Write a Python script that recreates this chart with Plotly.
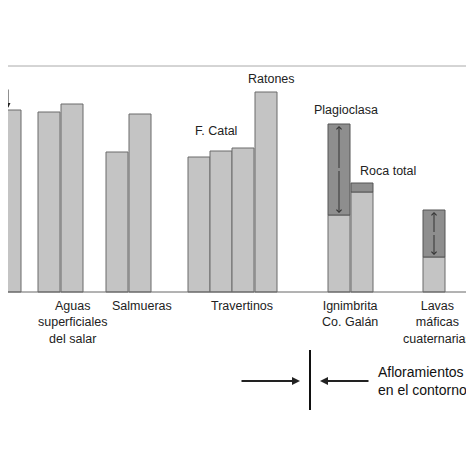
import plotly.graph_objects as go

# data (heights in chart units)
bar_x = [10, 49, 72, 117, 140, 199, 221, 243, 266, 339, 362, 434]
light = [182, 180, 188, 140, 178, 135, 141, 144, 200, 77, 100, 35]
dark_top = [None]*9 + [168, 109, 82]
cat_labels = ["os", "Aguas<br>superficiales<br>del salar", "Salmueras", "Travertinos",
              "Ignimbrita<br>Co. Galán", "Lavas<br>máficas<br>cuaternarias"]
cat_x = [5, 72, 142, 242, 350, 437]

dark_x = [bar_x[i] for i in range(12) if dark_top[i] is not None]
dark_base = [light[i] for i in range(12) if dark_top[i] is not None]
dark_h = [dark_top[i]-light[i] for i in range(12) if dark_top[i] is not None]

fig = go.Figure()
fig.add_bar(x=bar_x, y=light, width=22, marker=dict(color="#c4c4c4", line=dict(color="#6a6a6a", width=1)))
fig.add_bar(x=dark_x, y=dark_h, base=dark_base, width=22,
            marker=dict(color="#8e8e8e", line=dict(color="#555", width=1)))

font = dict(family="Liberation Sans, Arial", size=12.5, color="#222")
bfont = dict(family="Liberation Sans, Arial", size=14, color="#111")
ann = []
for t, x in zip(cat_labels, cat_x):
    ann.append(dict(x=x, y=-5, text=t, showarrow=False, yanchor="top", font=font))
ann += [
    dict(x=3, y=206, text="Río de los Patos", showarrow=False, xanchor="left", font=font),
    dict(x=216, y=161, text="F. Catal", showarrow=False, font=font),
    dict(x=271, y=213, text="Ratones", showarrow=False, font=font),
    dict(x=346, y=182, text="Plagioclasa", showarrow=False, font=font),
    dict(x=388, y=121, text="Roca total", showarrow=False, font=font),
    dict(x=1, y=-89, text="Aguas y depósitos de las aguas", showarrow=False, xanchor="left", font=bfont),
    dict(x=376, y=-89, text="Afloramientos<br>en el contorno", showarrow=False, xanchor="left",
         align="left", font=bfont),
]
arrows = [((8, 184), (8, 204), 1), ((300, -89), (240, -89), 2), ((320, -89), (370, -89), 2)]
for (hx, hy), (tx, ty), w in arrows:
    ann.append(dict(x=hx, y=hy, ax=tx, ay=ty, xref="x", yref="y", axref="x", ayref="y",
                    showarrow=True, arrowhead=2, arrowwidth=w, arrowsize=1 if w == 1 else 0.8,
                    arrowcolor="#222", text=""))
for i in range(12):
    if dark_top[i] is not None:
        for a, b in [(dark_top[i]-2, light[i]+2), (light[i]+2, dark_top[i]-2)]:
            ann.append(dict(x=bar_x[i], y=a, ax=bar_x[i], ay=(a+b)/2, xref="x", yref="y",
                            axref="x", ayref="y", showarrow=True, arrowhead=4, arrowwidth=1,
                            arrowcolor="#333", text=""))

shapes = [
    dict(type="line", x0=0, x1=482, y0=0, y1=0, line=dict(color="#666", width=1)),
    dict(type="line", x0=0, x1=482, y0=226, y1=226, line=dict(color="#aaa", width=1)),
    dict(type="line", x0=310, x1=310, y0=-58, y1=-118, line=dict(color="#111", width=2)),
]

fig.update_layout(width=474, height=474, margin=dict(l=0, r=0, t=0, b=0),
                  paper_bgcolor="white", plot_bgcolor="white", showlegend=False,
                  barmode="overlay", annotations=ann, shapes=shapes,
                  xaxis=dict(range=[8, 482], visible=False),
                  yaxis=dict(range=[-190, 284], visible=False))
fig.write_html("out.html")
